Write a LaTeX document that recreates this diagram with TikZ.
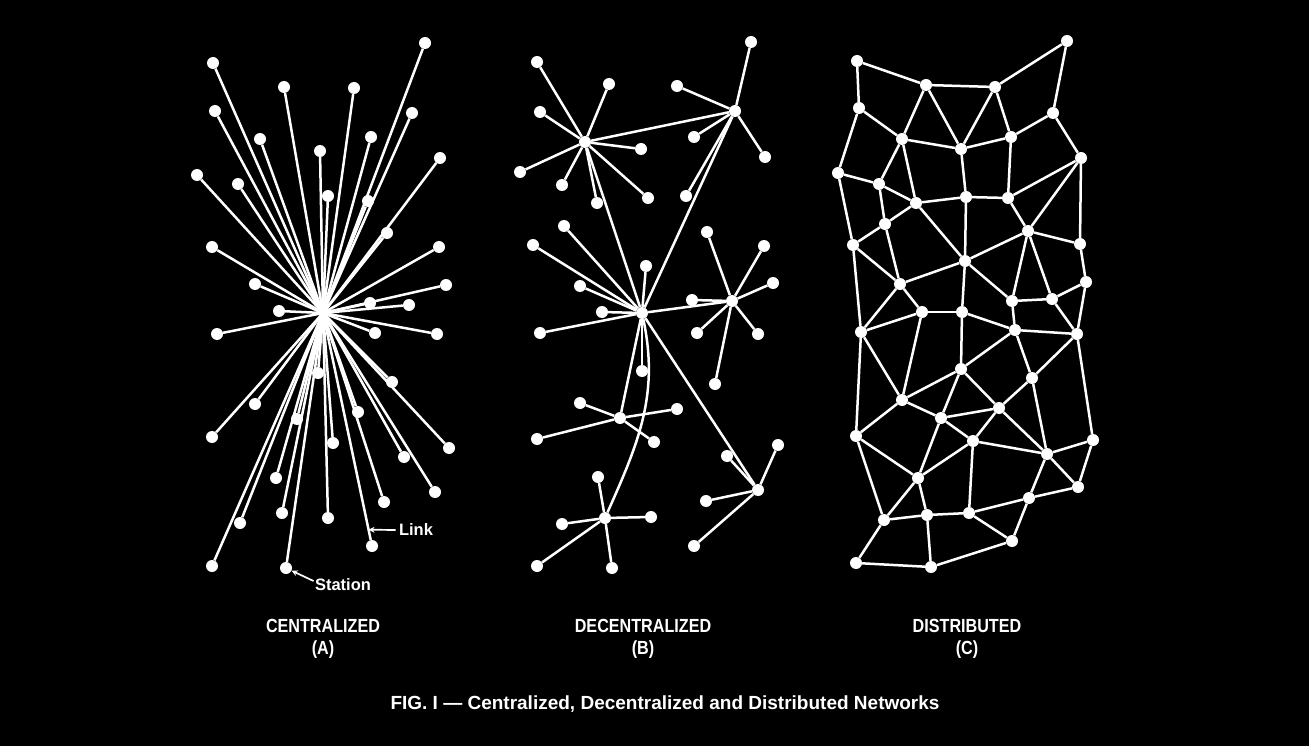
\documentclass[tikz,border=0pt]{standalone}
\usepackage{fontspec}
\usepackage{tikz}
\usetikzlibrary{calc,arrows.meta}
\setmainfont{Liberation Sans}[FakeStretch=0.85]
\newfontfamily\widefont{Liberation Sans}[Ligatures=TeX]

\tikzset{
	station/.style={circle, fill=white, inner sep=0pt, minimum size=12pt},
	link/.style={white, line width=2.5pt},
	panelname/.style={text=white, font=\bfseries\fontsize{19}{21}\selectfont},
	tagname/.style={text=white, font=\widefont\bfseries\fontsize{16.5}{18}\selectfont},
	pointer/.style={white, line width=1.7pt, -{Stealth[length=6pt,width=6pt]}},
}

\begin{document}
\begin{tikzpicture}[x=1pt,y=-1pt]
	\fill[black] (0,0) rectangle (1309,746);
	\useasboundingbox (0,0) rectangle (1309,746);

	% (A) centralized
	\coordinate (cA) at (323,313);
	\foreach \p [count=\i] in {(425,43),(213,63),(284,87),(354,88),(215,111),(412,113),(260,139),(371,137),(320,151),(440,158),(197,175),(238,184),(328,196),(368,201),(387,233),(212,247),(439,247),(255,284),(446,285),(370,303),(409,305),(279,311),(217,334),(375,333),(437,334),(318,373),(392,382),(255,404),(358,412),(297,419),(212,437),(333,443),(449,448),(404,457),(276,478),(435,492),(384,502),(282,513),(240,523),(328,518),(372,546),(212,566),(286,568)} {
		\node[station] (a\i) at \p {};
		\draw[link] (cA) -- (a\i);
	}
	\coordinate (lnkend) at ($(cA)!0.93!(a41)$);
	\node[tagname] (lnk) at (416,530) {Link};
	\node[tagname] (stn) at (343,585) {Station};
	\draw[pointer] (lnk.west) -- (lnkend);
	\draw[pointer] ($(stn.west)+(2,-4)$) -- (a43);

	% (B) decentralized
	\node[station] (h1) at (585,142) {};
	\node[station] (h2) at (735,111) {};
	\node[station] (h3) at (642,313) {};
	\node[station] (h4) at (732,301) {};
	\node[station] (h5) at (620,418) {};
	\node[station] (h6) at (605,518) {};
	\node[station] (h7) at (758,490) {};
	\foreach \p [count=\i] in {(537,62),(609,84),(540,112),(641,149),(520,172),(562,185),(597,203),(648,198)} {
		\node[station] (h1s\i) at \p {};
		\draw[link] (h1) -- (h1s\i);
	}
	\foreach \p [count=\i] in {(751,42),(677,86),(694,137),(765,157),(686,196)} {
		\node[station] (h2s\i) at \p {};
		\draw[link] (h2) -- (h2s\i);
	}
	\foreach \p [count=\i] in {(533,245),(564,226),(646,266),(580,286),(602,312),(540,333),(642,371)} {
		\node[station] (h3s\i) at \p {};
		\draw[link] (h3) -- (h3s\i);
	}
	\foreach \p [count=\i] in {(707,232),(764,246),(773,283),(692,300),(697,333),(758,334),(715,384)} {
		\node[station] (h4s\i) at \p {};
		\draw[link] (h4) -- (h4s\i);
	}
	\foreach \p [count=\i] in {(580,403),(677,409),(537,439),(654,442)} {
		\node[station] (h5s\i) at \p {};
		\draw[link] (h5) -- (h5s\i);
	}
	\foreach \p [count=\i] in {(598,477),(562,524),(651,517),(537,566),(612,568)} {
		\node[station] (h6s\i) at \p {};
		\draw[link] (h6) -- (h6s\i);
	}
	\foreach \p [count=\i] in {(778,445),(727,456),(706,501),(694,546)} {
		\node[station] (h7s\i) at \p {};
		\draw[link] (h7) -- (h7s\i);
	}
	\draw[link] (h1) -- (h2) (h1) -- (h3) (h2) -- (h3) (h3) -- (h4) (h3) -- (h5) (h3) -- (h7);
	\draw[link] (h3) to[out=-78,in=66] (h6);

	% (C) distributed
	\foreach \p [count=\i] in {(857,61),(926,85),(995,87),(1067,41),(859,108),(1053,113),(902,139),(1011,137),(961,149),(1081,158),(838,173),(879,184),(916,203),(966,197),(1008,198),(885,224),(1028,231),(853,245),(1080,244),(965,261),(900,284),(1086,282),(1012,301),(1052,299),(922,312),(962,312),(861,332),(1015,330),(1077,334),(961,369),(1032,378),(902,400),(999,408),(941,418),(856,436),(973,441),(1093,440),(1047,454),(918,478),(1078,487),(1029,498),(884,520),(927,515),(969,513),(1012,541),(856,563),(931,567)}
		\node[station] (d\i) at \p {};
	\foreach \u/\v in {1/2,1/5,2/3,3/4,4/6,2/7,2/9,3/9,3/8,5/7,5/11,7/9,9/8,8/6,6/10,7/12,7/13,9/14,8/15,11/12,12/13,13/14,14/15,15/10,10/19,10/17,11/18,12/16,13/16,13/20,14/20,15/17,16/18,16/21,18/21,18/27,17/19,17/20,17/23,17/24,19/22,20/21,20/26,20/23,21/25,21/27,22/24,22/29,23/24,23/28,24/29,25/26,25/27,25/32,26/30,26/28,28/29,28/30,28/31,29/31,27/32,27/35,29/37,30/32,30/33,30/34,31/33,31/38,32/35,32/34,34/33,34/36,34/39,33/36,33/38,37/38,37/40,38/40,38/41,36/38,36/39,36/44,35/39,35/42,39/42,39/43,42/43,43/44,44/41,41/40,44/45,41/45,42/46,43/47,46/47,47/45}
		\draw[link] (d\u) -- (d\v);

	% panel names and caption
	\node[panelname] (nameA) at (323,626) {CENTRALIZED};
	\node[panelname] (tagA) at (323,650) {(A)};
	\node[panelname] (nameB) at (643,626) {DECENTRALIZED};
	\node[panelname] (tagB) at (643,650) {(B)};
	\node[panelname] (nameC) at (967,626) {DISTRIBUTED};
	\node[panelname] (tagC) at (967,650) {(C)};
	\node[panelname, font=\widefont\bfseries\fontsize{19}{21}\selectfont] (fig) at (665,704) {FIG. I — Centralized, Decentralized and Distributed Networks};
\end{tikzpicture}
\end{document}
